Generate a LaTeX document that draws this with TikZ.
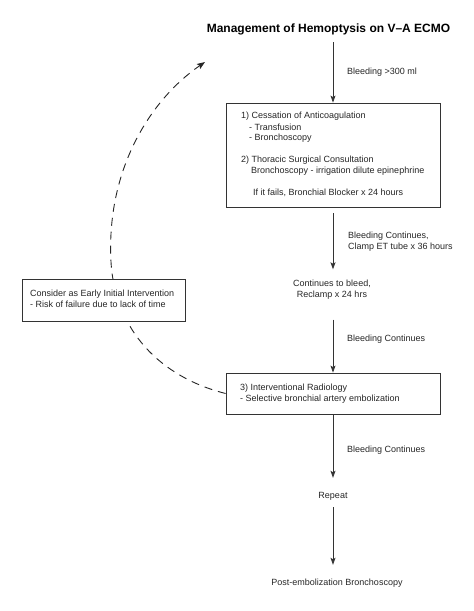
\documentclass[tikz,border=0pt]{standalone}
\usepackage{fontspec}
\setmainfont{Liberation Sans}
\usetikzlibrary{arrows.meta,backgrounds}
\begin{document}
\begin{tikzpicture}[x=1pt,y=-1pt,
  txt/.style={inner sep=0pt,font=\fontsize{9}{11}\selectfont,text=black!85},
  boxn/.style={draw=black!80,line width=0.8pt,fill=white,inner sep=0pt},
  arr/.style={draw=black!80,line width=0.8pt,-{Stealth[length=7pt,width=5pt,inset=1.5pt]}},
  dasharr/.style={draw=black!85,line width=0.9pt,dash pattern=on 8pt off 6pt,-{Stealth[length=8pt,width=6pt,inset=1.5pt]}}]
\useasboundingbox (0,0) rectangle (474,611);
% title
\node[inner sep=0pt,font=\bfseries\fontsize{12}{14}\selectfont] (title) at (328.5,29) {Management of Hemoptysis on V–A ECMO};
% boxes
\node[boxn,minimum width=214pt,minimum height=104pt] (box1) at (333,155) {};
\node[boxn,minimum width=214pt,minimum height=41pt] (box3) at (333,393.5) {};
\node[boxn,minimum width=163pt,minimum height=42pt] (left) at (103.5,300) {};
% box1 text
\node[txt,anchor=west] (b1a) at (241,116) {1) Cessation of Anticoagulation};
\node[txt,anchor=west] (b1b) at (249,127) {- Transfusion};
\node[txt,anchor=west] (b1c) at (249,138) {- Bronchoscopy};
\node[txt,anchor=west] (b1d) at (241,160) {2) Thoracic Surgical Consultation};
\node[txt,anchor=west] (b1e) at (251,171) {Bronchoscopy - irrigation dilute epinephrine};
\node[txt,anchor=west] (b1f) at (253,193) {If it fails, Bronchial Blocker x 24 hours};
% box3 text
\node[txt,anchor=west] (b3a) at (240,388) {3) Interventional Radiology};
\node[txt,anchor=west] (b3b) at (240,399) {- Selective bronchial artery embolization};
% left box text
\node[txt,anchor=west] (la) at (30,294) {Consider as Early Initial Intervention};
\node[txt,anchor=west] (lb) at (30,304.5) {- Risk of failure due to lack of time};
% flow texts
\node[txt,align=center,minimum height=40pt] (cont) at (332,289.5) {Continues to bleed,\\Reclamp x 24 hrs};
\node[txt,minimum height=22pt] (rep) at (333,496) {Repeat};
\node[txt,minimum height=16pt] (post) at (337,583) {Post-embolization Bronchoscopy};
% labels
\node[txt,anchor=west] (l1) at (347,72) {Bleeding >300 ml};
\node[txt,anchor=west,align=left] (l2) at (348,242) {Bleeding Continues,\\Clamp ET tube x 36 hours};
\node[txt,anchor=west] (l3) at (347,339) {Bleeding Continues};
\node[txt,anchor=west] (l4) at (347,450) {Bleeding Continues};
% arrows
\coordinate (c1) at (333,42);
\draw[arr] (c1) -- (box1.north);
\draw[arr] (box1.south) ++(0,6) -- (box1.south |- cont.north);
\draw[arr] (cont.south -| box3.north) ++(0,10) -- (box3.north);
\draw[arr] (box3.south) -- ([yshift=7pt]box3.south |- rep.north);
\draw[arr] (rep.south -| box3.south) -- ([yshift=10pt]box3.south |- post.north);
% dashed curve
\coordinate (tip) at (205,62);
\begin{scope}[on background layer]
\draw[dasharr] (box3.west) .. controls (160,377) and (115,330) .. (111,262) .. controls (106,170) and (150,100) .. (tip);
\end{scope}
\end{tikzpicture}
\end{document}
